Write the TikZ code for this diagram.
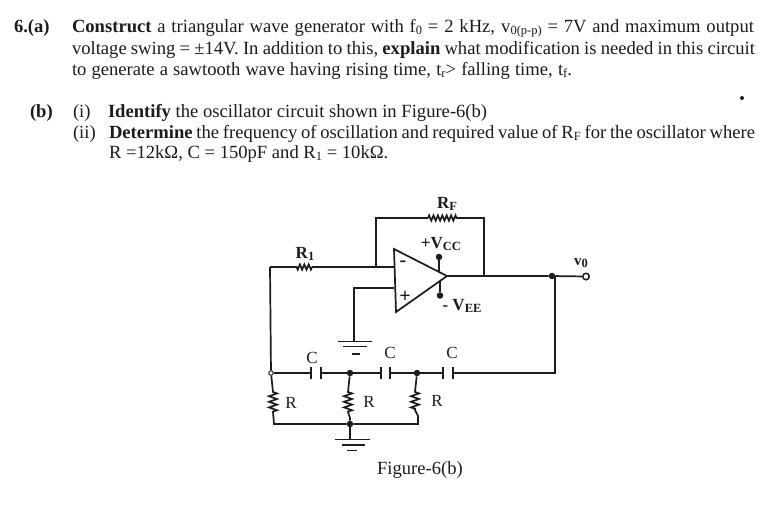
\documentclass[tikz,border=0pt]{standalone}
\usepackage{fontspec}
\setmainfont{Liberation Serif}
\usetikzlibrary{decorations.pathmorphing}
\newcommand{\sbs}[1]{\raisebox{-0.16em}{\fontsize{12.5}{13}\selectfont #1}}
\tikzset{
  txt/.style={anchor=base west,inner sep=0pt,outer sep=0pt,text=ink,font=\fontsize{18.6}{20}\selectfont},
  lab/.style={inner sep=0pt,outer sep=0pt,text=ink,font=\fontsize{17}{18}\selectfont},
  blab/.style={lab,font=\fontsize{17}{18}\selectfont\bfseries},
  wire/.style={draw=ink,line width=1.7pt,line join=miter},
  zig/.style={decoration={zigzag,amplitude=2.6pt,segment length=4.4pt}},
  vzig/.style={decoration={zigzag,amplitude=4pt,segment length=5.6pt}},
  dot/.style={circle,fill=ink,inner sep=0pt,minimum size=6.5pt},
  hole/.style={circle,draw=ink,fill=white,line width=1.5pt,inner sep=0pt,minimum size=6.5pt},
}
\definecolor{ink}{HTML}{1C1C1C}
\begin{document}
\begin{tikzpicture}[x=1pt,y=-1pt]
\useasboundingbox (0,0) rectangle (767,504);
\fill[white] (0,0) rectangle (767,504);
% question text
\node[txt] (qa) at (14,32) {\textbf{6.(a)}};
\node[txt] (l1) at (72,32) {\hbox to 682pt{\textbf{Construct} a triangular wave generator with f\sbs{0} = 2 kHz, v\sbs{0(p-p)} = 7V and maximum output}};
\node[txt] (l2) at (72,54) {\hbox to 683pt{voltage swing = ±14V. In addition to this, \textbf{explain} what modification is needed in this circuit}};
\node[txt] (l3) at (72,75) {\hbox to 500pt{to generate a sawtooth wave having rising time, t\sbs{r}> falling time, t\sbs{f}.}};
\node[txt] (qb) at (30,117) {\textbf{(b)}};
\node[txt] (l4a) at (73,117) {(i)};
\node[txt] (l4) at (108,117) {\textbf{Identify} the oscillator circuit shown in Figure-6(b)};
\node[txt] (l5a) at (73,138) {(ii)};
\node[txt] (l5) at (109,138) {\hbox to 646pt{\textbf{Determine} the frequency of oscillation and required value of R\sbs{F} for the oscillator where}};
\node[txt] (l6) at (109,158) {R =12kΩ, C = 150pF and R\sbs{1} = 10kΩ.};
\fill[ink] (742,98) circle (2pt);
% coordinates
\coordinate (tl) at (394,249);
\coordinate (bl) at (396,312);
\coordinate (tip) at (447,276);
\coordinate (minus) at (394,267);
\coordinate (plus) at (394,288);
\coordinate (jn) at (376,267);
\coordinate (fbl) at (376,218);
\coordinate (rfa) at (428,218);
\coordinate (rfb) at (457,218);
\coordinate (fbr) at (484,218);
\coordinate (fbd) at (484,276);
\coordinate (r1a) at (295,267);
\coordinate (r1b) at (312,267);
\coordinate (tlw) at (270,267);
\coordinate (pl) at (354,288);
\coordinate (g1) at (354,341);
\coordinate (rw) at (555,372);
\coordinate (rwt) at (555,276);
% op amp
\draw[wire] (tl) -- (tip) -- (bl) -- cycle;
% feedback and input
\draw[wire] (minus) -- (jn) -- (fbl) -- (rfa);
\draw[wire,zig] (rfa) decorate {-- (rfb)} -- (fbr) -- (fbd);
\draw[wire] (jn) -- (r1b);
\draw[wire,zig] (r1b) decorate {-- (r1a)} -- (tlw);
\draw[wire] (plus) -- (pl) -- (g1);
% ground 1
\draw[wire] (338,341.5) -- (372,341.5);
\draw[wire] (343,346.5) -- (367,346.5);
\draw[wire] (352,354) -- (360,354);
% output
\node[hole] (vout) at (586,276.5) {};
\node[dot] (outdot) at (552,276) {};
\draw[wire] (tip) -- (outdot) -- (vout);
\draw[wire] (rwt) -- (rw);
% supplies
\node[dot] (vcc) at (439,257) {};
\node[dot] (vee) at (440,295.5) {};
\coordinate (vcc0) at (439,271);
\coordinate (vee0) at (440,281);
\draw[wire] (vcc) -- (vcc0);
\draw[wire] (vee) -- (vee0);
% ladder
\node[hole,minimum size=4.5pt,line width=1pt] (ln) at (271,373) {};
\draw[wire] (tlw) -- (ln);
\node[dot] (n1) at (350,373) {};
\node[dot] (n2) at (417,373) {};
\coordinate (c1a) at (311,373);\coordinate (c1b) at (321,373);
\coordinate (c2a) at (381,373);\coordinate (c2b) at (390,373);
\coordinate (c3a) at (443,373);\coordinate (c3b) at (453,373);
\draw[wire] (ln) -- (c1a) (c1b) -- (n1) -- (c2a) (c2b) -- (n2) -- (c3a) (c3b) -- (555,373) -- (rw);
\foreach \c in {c1a,c1b,c2a,c2b,c3a,c3b}{\draw[wire] ([yshift=-6pt]\c) -- ([yshift=6pt]\c);}
% shunt resistors
\node[dot] (n3) at (350,424) {};
\coordinate (b0) at (274,424);\coordinate (b2) at (418,424);
\draw[wire,vzig] (ln) -- (273,392) decorate {-- (273,412)} -- (b0) -- (n3);
\draw[wire,vzig] (n1) -- (348,392) decorate {-- (348,412)} -- (350,418) -- (n3);
\draw[wire,vzig] (n2) -- (415,392) decorate {-- (415,410)} -- (418,416) -- (b2) -- (n3);
% ground 2
\coordinate (g2) at (350,439);
\draw[wire] (n3) -- (g2);
\draw[wire] (335,439.5) -- (370,439.5);
\draw[wire] (342,445) -- (365,445);
\draw[wire] (347,450.5) -- (357,450.5);
% labels
\node[blab] (lrf) at (447,204) {R\sbs{F}};
\node[blab] (lr1) at (305,254) {R\sbs{1}};
\node[blab] (lvcc) at (441,244) {+V\sbs{CC}};
\node[blab] (lvee) at (462,306) {- V\sbs{EE}};
\node[blab,font=\fontsize{15}{16}\selectfont\bfseries] (lvo) at (581,263) {v\sbs{0}};
\node[blab,font=\fontsize{20}{20}\selectfont\bfseries] (mn) at (403,264) {-};
\node[blab,font=\fontsize{20}{20}\selectfont\bfseries] (pls) at (405,297) {+};
\node[lab] (ra) at (291,403) {R};
\node[lab] (rb) at (369,402) {R};
\node[lab] (rc) at (437,401) {R};
\node[lab] (ca) at (312,358) {C};
\node[lab] (cb) at (390,353) {C};
\node[lab] (cc) at (452,353) {C};
\node[lab,font=\fontsize{18.6}{20}\selectfont] (fig) at (420,470) {Figure-6(b)};
\end{tikzpicture}
\end{document}
